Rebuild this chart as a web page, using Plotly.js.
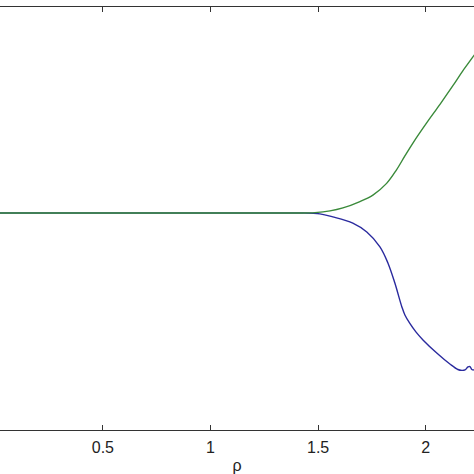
<!DOCTYPE html>
<html>
<head>
<meta charset="utf-8">
<script src="https://cdn.plot.ly/plotly-3.0.1.min.js"></script>
<style>html,body{margin:0;padding:0;background:#fff}#chart{width:474px;height:474px}</style>
</head>
<body>
<div id="chart"></div>
<script>
// rho values and the two branches
const rhoGreen = [0, 0.486, 0.95, 1.322, 1.415, 1.485, 1.555, 1.615, 1.694, 1.756, 1.818, 1.864, 1.903, 1.941, 2.004, 2.066, 2.126, 2.172, 2.219, 2.251];
const valGreen = [0, 0, 0, 0, 0, 0.001, 0.005, 0.012, 0.027, 0.043, 0.070, 0.102, 0.135, 0.166, 0.213, 0.257, 0.301, 0.336, 0.369, 0.392];
const rhoBlue = [0, 0.486, 0.95, 1.322, 1.415, 1.508, 1.568, 1.661, 1.726, 1.787, 1.824, 1.856, 1.889, 1.903, 1.926, 1.954, 1.987, 2.051, 2.112, 2.149, 2.168, 2.182, 2.196, 2.205, 2.214, 2.223, 2.251];
const valBlue = [0, 0, 0, 0, 0, -0.002, -0.009, -0.024, -0.045, -0.080, -0.118, -0.165, -0.222, -0.241, -0.261, -0.281, -0.300, -0.331, -0.357, -0.370, -0.372, -0.371, -0.364, -0.363, -0.370, -0.371, -0.369];
const xTickVals = [0.5, 1, 1.5, 2];
const xTickText = ['0.5', '1', '1.5', '2'];

const traces = [
  {x: rhoBlue, y: valBlue, mode: 'lines', line: {color: '#2a2a9e', width: 1.4, shape: 'spline', smoothing: 1}, hoverinfo: 'skip'},
  {x: rhoGreen, y: valGreen, mode: 'lines', line: {color: '#3a8a3a', width: 1.4, shape: 'spline', smoothing: 1}, hoverinfo: 'skip'}
];
const layout = {
  width: 474, height: 474,
  margin: {l: 0, r: 0, t: 7, b: 44},
  paper_bgcolor: '#fff', plot_bgcolor: '#fff',
  showlegend: false,
  font: {family: 'Liberation Sans, Arial, sans-serif', size: 16, color: '#222'},
  xaxis: {
    range: [0.022, 2.224], tickvals: xTickVals, ticktext: xTickText,
    ticks: 'inside', ticklen: 5, tickwidth: 1.2, tickcolor: '#333',
    ticklabelstandoff: 2,
    showline: true, linecolor: '#333', linewidth: 1.3, mirror: 'ticks',
    showgrid: false, zeroline: false,
    title: {text: 'ρ', font: {size: 16, color: '#222'}, standoff: 6},
    automargin: false
  },
  yaxis: {
    range: [-0.513, 0.487], showline: false, showgrid: false, zeroline: false,
    showticklabels: false, ticks: ''
  }
};
Plotly.newPlot('chart', traces, layout, {staticPlot: true, displayModeBar: false});
</script>
</body>
</html>
